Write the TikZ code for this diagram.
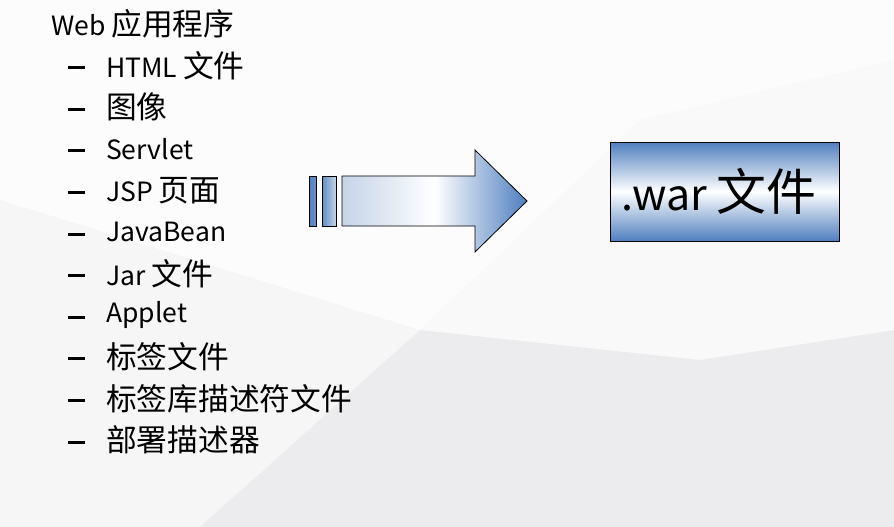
\documentclass[tikz,border=0pt]{standalone}
\usepackage{fontspec}
\setmainfont{Noto Sans CJK SC}
\newfontfamily\cj[Scale=1.16]{Noto Sans CJK SC}
\usetikzlibrary{positioning}
\definecolor{bgc}{HTML}{F0F0F2}
\definecolor{bluA}{HTML}{4F7FBF}
\definecolor{bluB}{HTML}{C5D4E8}
\tikzset{
  item/.style={anchor=west,inner sep=0pt,font=\fontsize{26.5}{30}\selectfont},
  dashm/.style={anchor=west,inner sep=0pt,fill=black,minimum width=17pt,minimum height=3pt},
}
\begin{document}
\begin{tikzpicture}[x=1pt,y=-1pt]
\useasboundingbox (0,0) rectangle (894,527);
\fill[bgc] (0,0) rectangle (894,527);
% light facets of the background
\fill[white,opacity=0.8] (0,0) -- (894,0) -- (894,60) -- (640,120) -- (420,330) -- (0,200) -- cycle;
\fill[white,opacity=0.6] (420,330) -- (640,120) -- (894,60) -- (894,330) -- (700,360) -- cycle;
\fill[white,opacity=0.4] (0,200) -- (420,330) -- (200,527) -- (0,527) -- cycle;
\fill[black,opacity=0.015] (420,330) -- (700,360) -- (560,527) -- (200,527) -- cycle;
\fill[black,opacity=0.015] (700,360) -- (894,330) -- (894,527) -- (560,527) -- cycle;

\node[item] (t0) at (51,24) {Web {\cj 应用程序}};
\foreach \i/\t in {1/HTML {\cj 文件},2/{\cj 图像},3/Servlet,4/JSP {\cj 页面},5/JavaBean,6/Jar {\cj 文件},7/Applet,8/{\cj 标签文件},9/{\cj 标签库描述符文件},10/{\cj 部署描述器}}{
  \node[dashm] (d\i) at (68,{26+41.6*\i}) {};
  \node[item] (i\i) at (106,{24+41.6*\i}) {\t};
}

% arrow
\shade[left color=bluA,right color=bluA!85,draw=black,line width=0.8pt] (309,176) rectangle (316,226);
\shade[left color=bluA!90,right color=bluB,draw=black,line width=0.8pt] (322,176) rectangle (336,226);
\node[coordinate] (tip) at (527,201) {};
\shade[left color=bluB,right color=bluA,middle color=white,shading angle=90,draw=black,line width=0.8pt]
  (342,176) -- (475,176) -- (475,150) -- (tip) -- (475,252) -- (475,226) -- (342,226) -- cycle;

% box
\shade[top color=bluA,bottom color=bluA,middle color=white,draw=black,line width=0.8pt]
  (610,142) rectangle (839,241);
\node[inner sep=0pt,font=\fontsize{43}{50}\selectfont] (war) at (719,191) {.war {\cj 文件}};
\end{tikzpicture}
\end{document}
